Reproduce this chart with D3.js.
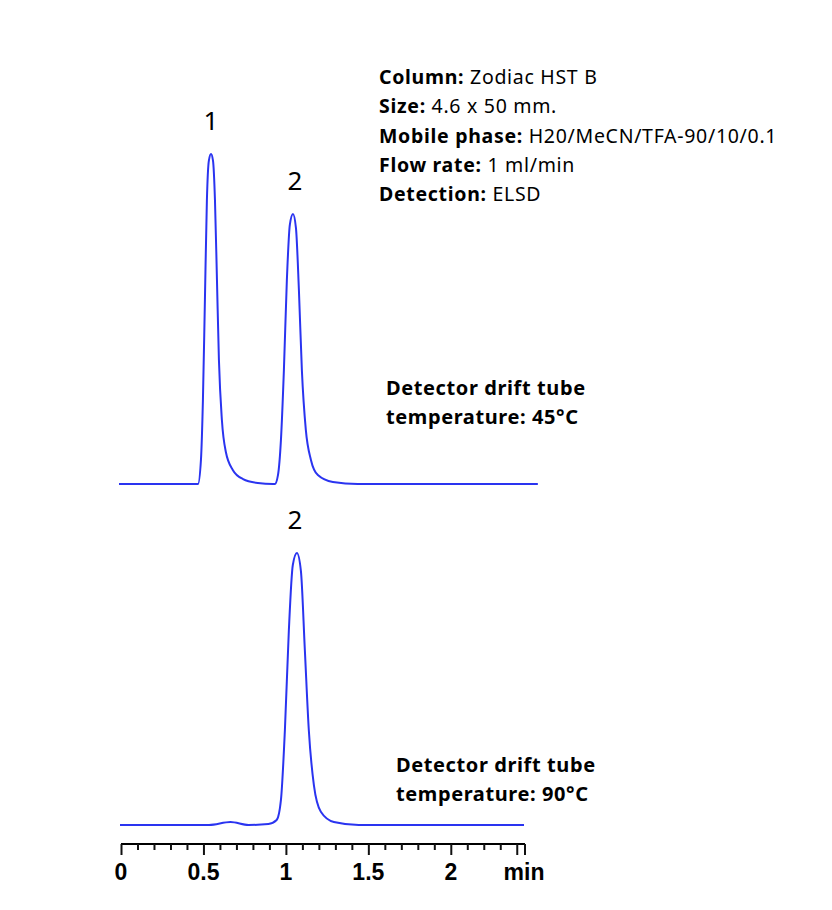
<!DOCTYPE html><html><head><meta charset="utf-8"><script src="https://d3js.org/d3.v7.min.js"></script>
<style>body{margin:0;background:#fff}</style></head><body><svg id="c" width="832" height="910"></svg>
<script>
const topTime=[0,0.479,0.497,0.509,0.521,0.533,0.545,0.558,0.570,0.582,0.594,0.606,0.624,0.648,0.691,0.752,0.842,0.933,0.945,0.964,0.982,1.0,1.018,1.036,1.055,1.073,1.091,1.109,1.133,1.164,1.206,1.297,1.448,2.54];
const topSignal=[0,0,7.3,25.5,55.8,86,98,100,98,86,62,37.6,19.4,9.7,4.2,1.5,0.3,0,0,2.7,13.3,34.5,61.8,78.5,81.8,77.6,58.8,34.5,16.4,7.3,2.7,0.6,0,0];
const botTime=[0,0.54,0.67,0.78,0.90,0.95,0.976,1.0,1.024,1.048,1.073,1.097,1.121,1.145,1.176,1.218,1.297,1.448,2.45];
const botSignal=[0,0,0.9,0,0.3,1.5,7.6,28.8,59,78.8,82.4,77,53,28.8,12,4,0.9,0,0];
const tickLabels=["0","0.5","1","1.5","2"];
const tickValues=[0,0.5,1,1.5,2];
const infoLines=[["Column:"," Zodiac HST B"],["Size:"," 4.6 x 50 mm."],["Mobile phase:"," H20/MeCN/TFA-90/10/0.1"],["Flow rate:"," 1 ml/min"],["Detection:"," ELSD"]];
const peakLabels=[{t:0.545,s:100,label:"1",panel:0},{t:1.055,s:81.8,label:"2",panel:0},{t:1.055,s:82.4,label:"2",panel:1}];

const svg=d3.select("#c");
const x=d3.scaleLinear().domain([0,2.45]).range([121,525]);
const yTop=d3.scaleLinear().domain([0,100]).range([484,154]);
const yBot=d3.scaleLinear().domain([0,100]).range([825,495]);
const col="#2a34f0";
function draw(t,s,y,dx){
  const data=t.map((v,i)=>[v,s[i]]);
  svg.append("path").datum(data).attr("fill","none").attr("stroke",col).attr("stroke-width",2)
   .attr("d",d3.line().x(d=>x(d[0])+dx).y(d=>y(d[1])).curve(d3.curveMonotoneX));
}
draw(topTime,topSignal,yTop,-2);
draw(botTime,botSignal,yBot,-1);
peakLabels.forEach(p=>{
  const y=p.panel?yBot:yTop;
  svg.append("text").attr("x",x(p.t)).attr("y",y(p.s)-24).attr("text-anchor","middle")
   .attr("font-family","Noto Sans").attr("font-size",26).text(p.label);
});
infoLines.forEach((l,i)=>{
  const t=svg.append("text").attr("x",379).attr("y",84+i*29.3).attr("font-family","Noto Sans").attr("font-size",19.5).attr("letter-spacing",0.7).attr("fill","#000");
  t.append("tspan").attr("font-weight","bold").text(l[0]);
  t.append("tspan").text(l[1]);
});
function det(xx,yy,temp){
  ["Detector drift tube","temperature: "+temp].forEach((s,i)=>svg.append("text").attr("x",xx).attr("y",yy+i*29)
   .attr("font-family","Noto Sans").attr("font-weight","bold").attr("font-size",20).attr("letter-spacing",0.6).text(s));
}
det(386,395,"45°C");det(396,772,"90°C");
// axis
const ax=svg.append("g").attr("transform","translate(0,844)");
ax.call(d3.axisBottom(x).tickValues(d3.range(0,25).map(i=>i/10)).tickSize(6).tickFormat(""));
ax.selectAll(".tick").filter(d=>tickValues.some(v=>Math.abs(v-d)<1e-6)||Math.abs(d-2.4)<1e-6).select("line").attr("y2",11);
ax.select(".domain").attr("d","M121,0H525").attr("stroke-width",2);
ax.selectAll("line").attr("stroke-width",2).attr("stroke","#111");
svg.append("line").attr("x1",525).attr("x2",525).attr("y1",844).attr("y2",855).attr("stroke","#111").attr("stroke-width",2);
tickValues.forEach((v,i)=>svg.append("text").attr("x",x(v)).attr("y",880).attr("text-anchor","middle")
  .attr("font-family","Liberation Sans Narrow, Liberation Sans").attr("font-weight","bold").attr("font-size",23).text(tickLabels[i]));
svg.append("text").attr("x",524).attr("y",880).attr("text-anchor","middle").attr("font-family","Liberation Sans Narrow, Liberation Sans").attr("font-weight","bold").attr("font-size",23).text("min");
</script></body></html>
